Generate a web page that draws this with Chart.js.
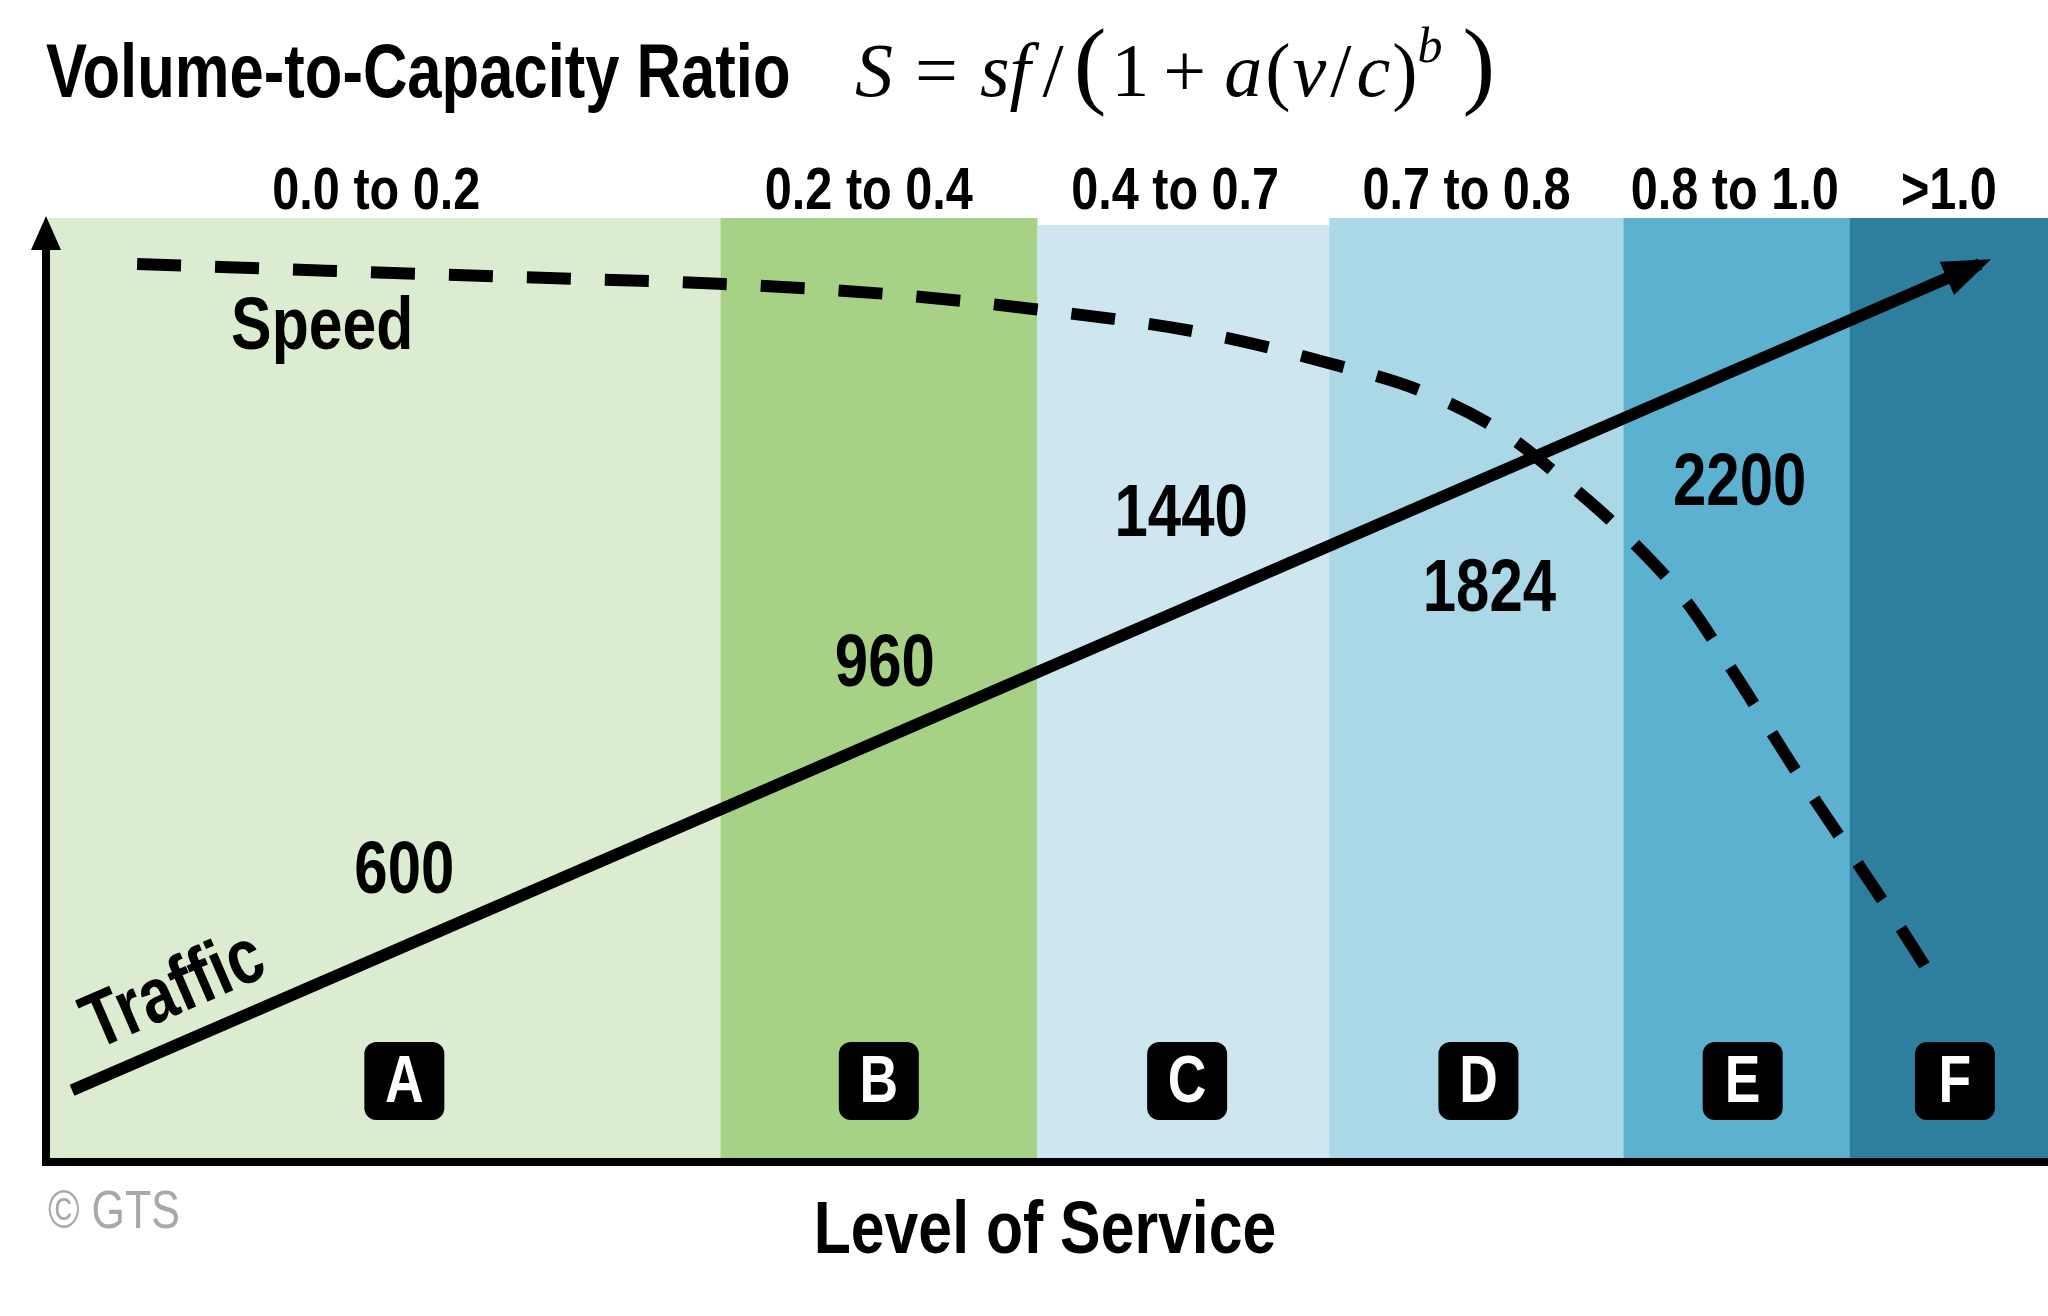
<!DOCTYPE html>
<html>
<head>
<meta charset="utf-8">
<script src="https://cdn.jsdelivr.net/npm/chart.js@4.4.1/dist/chart.umd.min.js"></script>
<style>
body{margin:0;background:#fff}
#wrap{position:relative;width:2048px;height:1316px;overflow:hidden}
#chart{position:absolute;left:0;top:0}
.narrow{position:absolute;font-family:"Liberation Sans",Arial,sans-serif;font-weight:bold;line-height:1;white-space:nowrap;transform:scaleX(0.81)}
#title{left:46px;top:33px;font-size:76px;color:#000;transform-origin:left center}
#xtitle{left:0;width:2090px;text-align:center;top:1190px;font-size:75px;color:#000;transform-origin:center center}
#copy{left:48px;top:1183px;font-size:53px;font-weight:normal;color:#a8a8a8;transform-origin:left center}
#formula{position:absolute;left:855px;top:32px;font-family:"Liberation Serif","Times New Roman",serif;font-size:76px;line-height:76px;white-space:nowrap;color:#000}
#formula span{display:inline-block}
#formula .i{font-style:italic}
#formula .big{font-size:98px;line-height:0}
#formula .sup{font-size:50px;line-height:0;position:relative;top:-34px}
</style>
</head>
<body>
<div id="wrap">
  <canvas id="chart" width="2048" height="1316"></canvas>
  <div id="title" class="narrow">Volume-to-Capacity Ratio</div>
  <div id="formula"><span class="i">S</span><span style="margin-left:22px">=</span><span class="i" style="margin-left:22px">sf</span><span style="margin-left:12px">/</span><span class="big" style="margin-left:10px">(</span><span style="margin-left:5px">1</span><span style="margin-left:14px">+</span><span class="i" style="margin-left:18px">a</span><span style="margin-left:3px">(</span><span class="i" style="margin-left:2px">v</span><span style="margin-left:4px">/</span><span class="i" style="margin-left:5px">c</span><span style="margin-left:2px">)</span><span class="i sup">b</span><span class="big" style="margin-left:20px">)</span></div>
  <div id="xtitle" class="narrow">Level of Service</div>
  <div id="copy" class="narrow">© GTS</div>
</div>
<script>
// level of service bands
const bands = ['A', 'B', 'C', 'D', 'E', 'F']
const ratioRanges = ['0.0 to 0.2', '0.2 to 0.4', '0.4 to 0.7', '0.7 to 0.8', '0.8 to 1.0', '>1.0']
const bandEdges = [0, 33.7, 49.5, 64.1, 78.8, 90.1, 100]

// traffic volume labels along the line
const volumes = [600, 960, 1440, 1824, 2200]

// traffic line (straight, arrow at the end)
const trafficX = [1.3, 96.6]
const trafficY = [7.2, 95.1]

// speed curve (dashed)
const speedX = [4.55, 14.0, 23.8, 33.6, 42.1, 49.4, 57.7, 64.0, 68.8, 72.7, 76.0, 78.6, 81.9, 84.5, 87.4, 90.0, 92.6, 94.3]
const speedY = [95.1, 94.4, 93.7, 93.0, 91.9, 90.3, 87.8, 84.6, 81.5, 77.3, 71.8, 66.9, 59.3, 51.0, 41.2, 32.9, 24.6, 18.9]

const bandColors = ['#dcecd0', '#a7d285', '#cee6f0', '#aad8e6', '#5db1d0', '#2e7f9d']
const FONT = '"Liberation Sans",Arial,sans-serif'
const SQUEEZE = 0.81

function narrowText(ctx, text, px, py, size, angle) {
  ctx.save()
  ctx.translate(px, py)
  if (angle) ctx.rotate(angle)
  ctx.scale(SQUEEZE, 1)
  ctx.font = 'bold ' + size + 'px ' + FONT
  ctx.fillText(text, 0, 0)
  ctx.restore()
}

const losPlugin = {
  id: 'los',
  beforeDatasetsDraw(chart, args, opts) {
    const {ctx, chartArea, scales: {x, y}} = chart
    ctx.save()
    for (let i = 0; i < bands.length; i++) {
      const x0 = x.getPixelForValue(bandEdges[i])
      const x1 = x.getPixelForValue(bandEdges[i + 1])
      let top = chartArea.top
      let bottom = chartArea.bottom
      if (i == 2) { top += 7; bottom += 8 }
      ctx.fillStyle = bandColors[i]
      ctx.fillRect(x0, top, x1 - x0 + 0.5, bottom - top)
    }
    ctx.restore()
  },
  afterDatasetsDraw(chart, args, opts) {
    const {ctx, chartArea, scales: {x, y}} = chart
    ctx.save()

    // axes
    ctx.fillStyle = '#000'
    ctx.fillRect(chartArea.left - 4, chartArea.top + 20, 8, chartArea.bottom - chartArea.top - 16)
    ctx.fillRect(chartArea.left - 4, chartArea.bottom, chartArea.right - chartArea.left + 4, 8)
    ctx.beginPath()
    ctx.moveTo(chartArea.left, chartArea.top - 2)
    ctx.lineTo(chartArea.left - 15, chartArea.top + 32)
    ctx.lineTo(chartArea.left + 15, chartArea.top + 32)
    ctx.closePath()
    ctx.fill()

    // arrow head on traffic line
    const n = trafficX.length - 1
    const ex = x.getPixelForValue(trafficX[n]), ey = y.getPixelForValue(trafficY[n])
    const sx = x.getPixelForValue(trafficX[n - 1]), sy = y.getPixelForValue(trafficY[n - 1])
    const ang = Math.atan2(ey - sy, ex - sx)
    const tip = 12, len = 48, half = 18
    const tx = ex + Math.cos(ang) * tip, ty = ey + Math.sin(ang) * tip
    ctx.beginPath()
    ctx.moveTo(tx, ty)
    ctx.lineTo(tx - Math.cos(ang) * len - Math.sin(ang) * half, ty - Math.sin(ang) * len + Math.cos(ang) * half)
    ctx.lineTo(tx - Math.cos(ang) * len + Math.sin(ang) * half, ty - Math.sin(ang) * len - Math.cos(ang) * half)
    ctx.closePath()
    ctx.fill()

    // range labels above bands, letter boxes at the bottom
    ctx.textAlign = 'center'
    for (let i = 0; i < bands.length; i++) {
      const cx = x.getPixelForValue((bandEdges[i] + bandEdges[i + 1]) / 2)
      ctx.fillStyle = '#000'
      ctx.textBaseline = 'alphabetic'
      narrowText(ctx, ratioRanges[i], cx + opts.rangeShift[i], chartArea.top - 9, 60)

      const by = y.getPixelForValue(opts.boxY)
      const bx = cx + opts.boxShift[i]
      ctx.beginPath()
      ctx.roundRect(bx - 40, by - 39, 80, 78, 12)
      ctx.fill()
      ctx.fillStyle = '#fff'
      ctx.textBaseline = 'middle'
      narrowText(ctx, bands[i], bx, by + 3, 66)
    }

    // volume labels
    ctx.fillStyle = '#000'
    ctx.textBaseline = 'middle'
    volumes.forEach((v, i) => {
      const p = opts.volumeAt[i]
      narrowText(ctx, String(v), x.getPixelForValue(p[0]), y.getPixelForValue(p[1]), 74)
    })

    // series names
    narrowText(ctx, 'Speed', x.getPixelForValue(opts.speedAt[0]), y.getPixelForValue(opts.speedAt[1]), 75)
    const rot = Math.atan2(y.getPixelForValue(trafficY[1]) - y.getPixelForValue(trafficY[0]),
                           x.getPixelForValue(trafficX[1]) - x.getPixelForValue(trafficX[0]))
    narrowText(ctx, 'Traffic', x.getPixelForValue(opts.trafficAt[0]), y.getPixelForValue(opts.trafficAt[1]), 78, rot)
    ctx.restore()
  }
}

const ctx = document.getElementById('chart')

new Chart(ctx, {
  type: 'line',
  data: {
    datasets: [{
      label: 'Traffic',
      data: trafficX.map((v, i) => ({x: v, y: trafficY[i]})),
      borderColor: '#000',
      borderWidth: 12,
      pointRadius: 0,
      borderCapStyle: 'butt'
    }, {
      label: 'Speed',
      data: speedX.map((v, i) => ({x: v, y: speedY[i]})),
      borderColor: '#000',
      borderWidth: 12,
      borderDash: [44, 34],
      pointRadius: 0,
      cubicInterpolationMode: 'monotone'
    }]
  },
  options: {
    responsive: false,
    animation: false,
    layout: {padding: {left: 46, right: 0, top: 218, bottom: 158}},
    scales: {
      x: {type: 'linear', min: 0, max: 100, display: false},
      y: {type: 'linear', min: 0, max: 100, display: false}
    },
    plugins: {
      legend: {display: false},
      tooltip: {enabled: false},
      los: {
        rangeShift: [-7, -10, -8, -10, -2, 0],
        boxShift: [21, 0, 4, 2, 6, 6],
        boxY: 8.2,
        volumeAt: [[17.9, 30.4], [41.9, 52.4], [56.7, 68.3], [72.1, 60.4], [84.6, 71.6]],
        speedAt: [13.8, 88.3],
        trafficAt: [6.4, 17.6]
      }
    }
  },
  plugins: [losPlugin]
})
</script>
</body>
</html>
